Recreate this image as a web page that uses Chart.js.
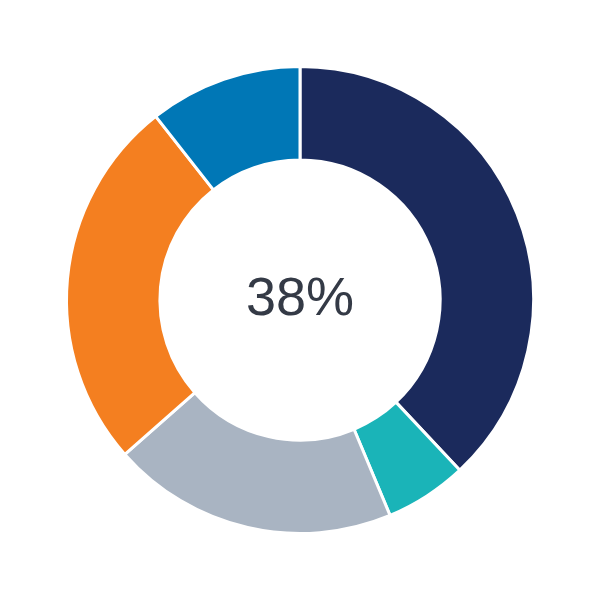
<!DOCTYPE html>
<html>
<head>
<meta charset="utf-8">
<script src="https://cdn.jsdelivr.net/npm/chart.js@4"></script>
<style>
  html, body { margin: 0; padding: 0; background: #ffffff; }
  #wrap { width: 600px; height: 600px; position: relative; }
</style>
</head>
<body>
<div id="wrap"><canvas id="donut"></canvas></div>
<script>
// Segment values (percent), clockwise from 12 o'clock
const labels = ['A', 'B', 'C', 'D', 'E'];
const values = [38, 5.7, 19.8, 25.9, 10.6];
const colors = ['#1b2a5c', '#1ab4b8', '#a9b4c2', '#f47f20', '#0077b6'];
const centerText = '38%';

// Draw the big number in the hole
const centerLabel = {
  id: 'centerLabel',
  afterDraw(chart) {
    const ctx = chart.ctx;
    const meta = chart.getDatasetMeta(0).data[0];
    ctx.save();
    ctx.font = '54px "Liberation Sans", Arial, sans-serif';
    ctx.fillStyle = '#343a46';
    ctx.textAlign = 'center';
    ctx.textBaseline = 'middle';
    ctx.fillText(centerText, meta.x, meta.y);
    ctx.restore();
  }
};

new Chart(document.getElementById('donut'), {
  type: 'doughnut',
  data: {
    labels: labels,
    datasets: [{
      data: values,
      backgroundColor: colors,
      borderColor: '#ffffff',
      borderWidth: 3
    }]
  },
  options: {
    responsive: true,
    maintainAspectRatio: false,
    animation: false,
    cutout: '60%',
    layout: { padding: 65 },
    plugins: {
      legend: { display: false },
      tooltip: { enabled: false }
    }
  },
  plugins: [centerLabel]
});
</script>
</body>
</html>
